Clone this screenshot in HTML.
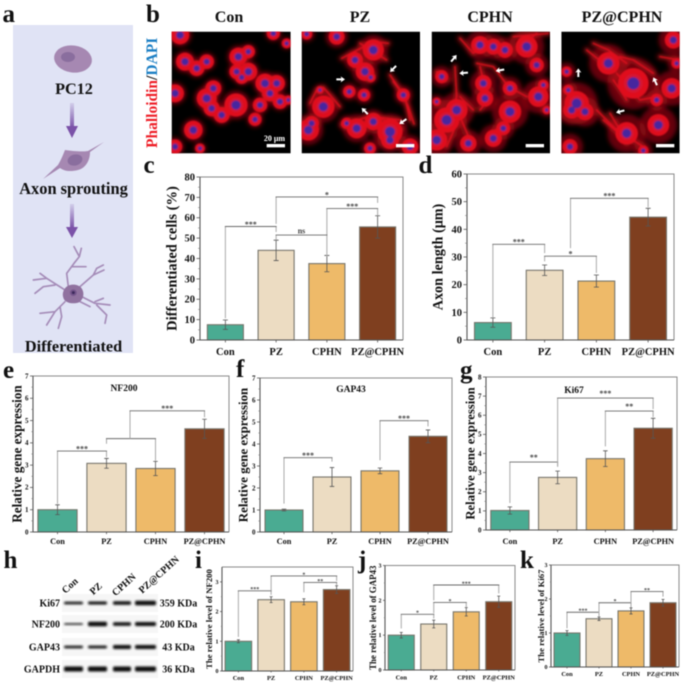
<!DOCTYPE html>
<html lang="en">
<head>
<meta charset="utf-8">
<title>PC12 differentiation figure</title>
<style>
html,body{margin:0;padding:0;background:#fff;width:685px;height:683px;overflow:hidden}
svg{display:block;filter:blur(.45px)}
text{font-family:"Liberation Serif",serif;font-weight:bold;fill:#111}
</style>
</head>
<body>
<svg id="figure" xmlns="http://www.w3.org/2000/svg" width="685" height="683" viewBox="0 0 685 683">
<defs>
<filter id="soft" x="-20%" y="-20%" width="140%" height="140%"><feGaussianBlur stdDeviation="2.6"/></filter>
<filter id="softer" x="-20%" y="-20%" width="140%" height="140%"><feGaussianBlur stdDeviation="6"/></filter>
<filter id="bandBlur" x="-20%" y="-100%" width="140%" height="300%"><feGaussianBlur stdDeviation="1.1"/></filter>
<linearGradient id="arrowFade" x1="0" y1="0" x2="0" y2="1">
<stop offset="0" stop-color="#7b52a8" stop-opacity=".15"/>
<stop offset="1" stop-color="#7b52a8"/>
</linearGradient>
</defs>

<g>
<rect x="13" y="25" width="120" height="328" fill="#e0e3f5"/>
<ellipse cx="73" cy="59" rx="19" ry="13.5" transform="rotate(8 73 59)" fill="#a688b2"/>
<ellipse cx="68" cy="57" rx="7" ry="5" fill="#8a6e9e"/>
<text x="74" y="94" text-anchor="middle" font-size="16.2">PC12</text>
<rect x="70" y="103" width="4" height="25" fill="url(#arrowFade)"/>
<polygon points="66,126 78,126 72,138" fill="#7b52a8"/>
<path d="M104,142 L90,152 C90,160 86,168 78,170 C70,172 64,171 60,168 L43,179 L58,165 C61,160 63,155 65,150 C72,151 82,152 88,151 Z" fill="#a688b2"/>
<ellipse cx="75" cy="160" rx="7.5" ry="5.5" transform="rotate(-15 75 160)" fill="#8a6e9e"/>
<text x="73.5" y="194" text-anchor="middle" font-size="16.4">Axon sprouting</text>
<rect x="70" y="204" width="4" height="24" fill="url(#arrowFade)"/>
<polygon points="66,227 78,227 72,238" fill="#7b52a8"/>
<g transform="scale(.33333)" fill="none" stroke="#a58cb8" stroke-linecap="round" stroke-linejoin="round">
<path stroke-width="5" d="M205,860 L200,820 L222,790 L238,770 L222,740 M238,770 L244,745 M215,800 L258,800"/>
<path stroke-width="5" d="M240,860 L280,825 L312,810 M280,825 L290,805 L310,795"/>
<path stroke-width="5" d="M195,870 L140,835 L100,840 M140,835 L120,820 M165,855 L130,860 L105,880"/>
<path stroke-width="5" d="M245,890 L285,910 L330,915 M285,905 L310,895 M290,915 L320,945 L315,970"/>
<path stroke-width="5" d="M195,905 L165,935 L120,940 M165,935 L140,975 M180,920 L185,950 L175,985 M240,905 L270,920"/>
<path d="M195,865 C205,850 235,850 245,865 C255,880 250,900 235,908 C220,912 200,910 192,898 C186,885 188,875 195,865 Z" fill="#90729f" stroke="none"/>
<circle cx="220" cy="878" r="10" fill="#75568c" stroke="none"/>
<circle cx="220" cy="878" r="4.5" fill="#3e2a5c" stroke="none"/>
</g>
<text x="73.5" y="351.5" text-anchor="middle" font-size="16.3">Differentiated</text>
</g>

<g>
<text x="2.5" y="22" font-size="25">a</text>
<text x="146" y="22" font-size="25">b</text>
<text x="143.5" y="173" font-size="25">c</text>
<text x="418.5" y="173" font-size="25">d</text>
<text x="3" y="378" font-size="25">e</text>
<text x="236" y="377" font-size="25">f</text>
<text x="460" y="378" font-size="25">g</text>
<text x="3.5" y="568" font-size="25">h</text>
<text x="195" y="568" font-size="25">i</text>
<text x="358" y="568" font-size="25">j</text>
<text x="520" y="568" font-size="25">k</text>
</g>

<g id="micrographs">
<text transform="translate(157,148) rotate(-90)" font-size="15.5"><tspan style="fill:#ee1c25">Phalloidin</tspan><tspan>/</tspan><tspan style="fill:#1c7fc4">DAPI</tspan></text>
<text x="229" y="22" text-anchor="middle" font-size="16">Con</text>
<text x="360" y="22" text-anchor="middle" font-size="16">PZ</text>
<text x="490" y="22" text-anchor="middle" font-size="16">CPHN</text>
<text x="622" y="22" text-anchor="middle" font-size="16">PZ@CPHN</text>
</g>

<g id="blot"></g>
<g id="charts"></g>
</svg>

<script>
const categories = ['Con', 'PZ', 'CPHN', 'PZ@CPHN'];

const cValues = [7.5, 44, 37.5, 55.5];
const cErrors = [2.3, 5, 4, 5.5];
const cTicks = [0, 10, 20, 30, 40, 50, 60, 70, 80];
const cBrackets = [[0, 1, 55.7, 10.7, 53, '***'], [1, 3, 70.2, 57, 67.3, '*'], [2, 3, 64.5, 51.5, 61, '***'], [1, 2, 51.5, 49, 41, 'ns']];

const dValues = [6.3, 25.2, 21.3, 44.4];
const dErrors = [1.7, 1.9, 2.2, 3.2];
const dTicks = [0, 10, 20, 30, 40, 50, 60];
const dBrackets = [[0, 1, 34.6, 8, 31.4, '***'], [1, 2, 30.3, 28.4, 24.2, '*'], [1.5, 3, 51.2, 33.2, 48, '***']];

const eValues = [1.0, 3.08, 2.85, 4.63];
const eErrors = [0.22, 0.22, 0.32, 0.43];
const eTicks = [0, 1, 2, 3, 4, 5, 6, 7];
const eBrackets = [[0, 1, 3.63, 1.27, 3.36, '***'], [1, 2, 4.19, 3.96, 3.2, ''], [1.48, 3, 5.44, 4.19, 5.15, '***']];

const fValues = [1.0, 2.5, 2.78, 4.35];
const fErrors = [0.04, 0.43, 0.13, 0.29];
const fTicks = [0, 1, 2, 3, 4, 5, 6, 7];
const fBrackets = [[0, 1, 3.38, 1.29, 3.2, '***'], [2, 3, 5.06, 3.26, 4.8, '***']];

const gValues = [1.02, 2.75, 3.73, 5.32];
const gErrors = [0.19, 0.33, 0.41, 0.52];
const gTicks = [0, 1, 2, 3, 4, 5, 6, 7, 8];
const gBrackets = [[0, 1, 3.55, 1.41, 3.3, '**'], [1, 3, 6.9, 3.33, 6.32, '***'], [2, 3, 6.22, 4.37, 5.9, '**']];

const iValues = [1.0, 2.4, 2.33, 2.74];
const iErrors = [0.05, 0.1, 0.1, 0.13];
const iTicks = [0, 1, 2, 3];
const iBrackets = [[0, 1, 2.7, 1.15, 2.56, '***'], [1, 3, 3.2, 2.7, 3.03, '*'], [2, 3, 2.98, 2.65, 2.89, '**']];

const jValues = [1.0, 1.32, 1.67, 1.96];
const jErrors = [0.08, 0.11, 0.12, 0.16];
const jTicks = [0, 1, 2, 3];
const jBrackets = [[0, 1, 1.6, 1.19, 1.48, '*'], [1, 2, 1.94, 1.63, 1.81, '*'], [1, 3, 2.44, 2.0, 2.2, '***']];

const kValues = [1.0, 1.42, 1.65, 1.89];
const kErrors = [0.07, 0.05, 0.09, 0.1];
const kTicks = [0, 1, 2, 3];
const kBrackets = [[0, 1, 1.61, 1.14, 1.49, '***'], [1, 2, 1.89, 1.54, 1.75, '*'], [2, 3, 2.22, 1.88, 2.07, '**']];

const blotRowNames = ['Ki67', 'NF200', 'GAP43', 'GAPDH'];
const blotWeights = ['359 KDa', '200 KDa', '43 KDa', '36 KDa'];
const blotIntensity = [[2.6, 3, 3.5, 4.5], [1.6, 4.5, 3.5, 4], [2.4, 2.8, 4, 4], [5, 5, 5, 5]];

const SVG_NS = 'http://www.w3.org/2000/svg';
const barColors = ['#4aab92', '#ecdcc2', '#eeba69', '#7f3f1f'];

function make(parent, tag, props, content) {
  const node = document.createElementNS(SVG_NS, tag);
  for (const key in props) node.setAttribute(key, props[key]);
  if (content !== undefined) node.textContent = content;
  parent.appendChild(node);
  return node;
}

const layouts = [
  {id:'c', left:200, right:403, top:177, bottom:340, yMax:80, values:cValues, errors:cErrors, ticks:cTicks, brackets:cBrackets, barFrac:.71, tickFont:10.5, xFont:10.5, xLabelY:355, tickLen:3.5, starFont:8, starGap:3.5, yTitle:'Differentiated cells (%)', yTitleX:176.5, yTitleFont:14.5, capW:5},
  {id:'d', left:467, right:674, top:174, bottom:340, yMax:60, values:dValues, errors:dErrors, ticks:dTicks, brackets:dBrackets, barFrac:.71, tickFont:10.5, xFont:10.5, xLabelY:355, tickLen:3.5, starFont:8, starGap:3.5, yTitle:'Axon length (μm)', yTitleX:442.5, yTitleFont:14.2, capW:5},
  {id:'e', left:33, right:229, top:376, bottom:532, yMax:7, values:eValues, errors:eErrors, ticks:eTicks, brackets:eBrackets, barFrac:.8, tickFont:7, xFont:8.3, xLabelY:544, tickLen:3, starFont:8, starGap:3.5, yTitle:'Relative gene expression', yTitleX:21.5, yTitleFont:13.2, capW:4.5, title:'NF200', titleX:124, titleY:391},
  {id:'f', left:260, right:452, top:378, bottom:532, yMax:7, values:fValues, errors:fErrors, ticks:fTicks, brackets:fBrackets, barFrac:.79, tickFont:7, xFont:8.3, xLabelY:544, tickLen:3, starFont:8, starGap:3.5, yTitle:'Relative gene expression', yTitleX:247.5, yTitleFont:12.9, capW:4.5, title:'GAP43', titleX:351, titleY:392},
  {id:'g', left:486, right:677, top:377, bottom:530, yMax:8, values:gValues, errors:gErrors, ticks:gTicks, brackets:gBrackets, barFrac:.8, tickFont:7, xFont:8.3, xLabelY:544, tickLen:3, starFont:8, starGap:6, yTitle:'Relative gene expression', yTitleX:474.5, yTitleFont:12.7, capW:4.5, title:'Ki67', titleX:574, titleY:393},
  {id:'i', left:222, right:353, top:567, bottom:671, yMax:3.5, values:iValues, errors:iErrors, ticks:iTicks, brackets:iBrackets, barFrac:.81, tickFont:6, xFont:6.4, xLabelY:680, tickLen:2, starFont:6, starGap:2.5, yTitle:'The relative level of NF200', yTitleX:212, yTitleFont:8.7, capW:3},
  {id:'j', left:385, right:515, top:565.5, bottom:670, yMax:3, values:jValues, errors:jErrors, ticks:jTicks, brackets:jBrackets, barFrac:.8, tickFont:6, xFont:6.4, xLabelY:679.5, tickLen:2, starFont:6, starGap:2.5, yTitle:'The relative level of GAP43', yTitleX:376, yTitleFont:8.9, capW:3},
  {id:'k', left:551, right:679, top:565, bottom:667, yMax:3, values:kValues, errors:kErrors, ticks:kTicks, brackets:kBrackets, barFrac:.81, tickFont:6, xFont:6.4, xLabelY:676, tickLen:2, starFont:6, starGap:2.5, yTitle:'The relative level of Ki67', yTitleX:544, yTitleFont:8.7, capW:3}
];

function drawChart(cfg) {
  const root = document.getElementById('charts');
  const group = make(root, 'g', {});
  
  

  const step = (cfg.right - cfg.left) / categories.length;
  const xScale = function (i) { return cfg.left + (i + 0.5) * step; };
  const yScale = function (v) { return cfg.bottom - (v / cfg.yMax) * (cfg.bottom - cfg.top); };
  const barWidth = step * cfg.barFrac;

  cfg.values.forEach(function (value, i) {
    const bar = make(group, 'rect', {x: xScale(i) - barWidth / 2, y: yScale(value), width: barWidth, height: cfg.bottom - yScale(value), fill: barColors[i], stroke: '#77756c', 'stroke-width': 1.1});
    
    

    const hi = yScale(value + cfg.errors[i]);
    const lo = yScale(value - cfg.errors[i]);
    const cx = xScale(i);
    const err = make(group, 'path', {d: 'M' + cx + ',' + hi + 'V' + lo + 'M' + (cx - cfg.capW / 2) + ',' + hi + 'H' + (cx + cfg.capW / 2) + 'M' + (cx - cfg.capW / 2) + ',' + lo + 'H' + (cx + cfg.capW / 2), fill: 'none', stroke: '#555', 'stroke-width': .8});
    
    

    const xTick = make(group, 'line', {x1: cx, x2: cx, y1: cfg.bottom, y2: cfg.bottom + cfg.tickLen * .7, stroke: '#555', 'stroke-width': .8});
    
    

    const xLabel = make(group, 'text', {x: cx, y: cfg.xLabelY, 'text-anchor': 'middle', 'font-size': cfg.xFont}, categories[i]);
    
    
  });

  cfg.brackets.forEach(function (b) {
    const x1 = xScale(b[0]);
    const x2 = xScale(b[1]);
    const top = yScale(b[2]);
    const legs = make(group, 'path', {d: 'M' + x1 + ',' + top + 'V' + yScale(b[3]) + 'M' + x2 + ',' + top + 'V' + yScale(b[4]), fill: 'none', stroke: '#a9a9a9', 'stroke-width': 1});
    
    
    const span = make(group, 'line', {x1: x1 - .5, x2: x2 + .5, y1: top, y2: top, stroke: '#6a6a6a', 'stroke-width': .9});
    
    
    if (b[5]) {
      const isStar = b[5].indexOf('*') === 0;
      const yText = isStar ? top - cfg.starGap + .48 * cfg.starFont : top - 1.8;
      const mark = make(group, 'text', {x: (x1 + x2) / 2, y: yText, 'text-anchor': 'middle', 'font-size': cfg.starFont, style: 'fill:#444'}, b[5]);
      
      
    }
  });

  const frameTop = make(group, 'path', {d: 'M' + cfg.left + ',' + cfg.top + 'H' + cfg.right + 'V' + cfg.bottom, fill: 'none', stroke: '#8a8a8a', 'stroke-width': 1});
  
  
  const axes = make(group, 'path', {d: 'M' + cfg.left + ',' + cfg.top + 'V' + cfg.bottom + 'H' + cfg.right, fill: 'none', stroke: '#555', 'stroke-width': 1.1});
  
  

  cfg.ticks.forEach(function (t, idx) {
    const y = yScale(t);
    const tick = make(group, 'line', {x1: cfg.left - cfg.tickLen, x2: cfg.left, y1: y, y2: y, stroke: '#555', 'stroke-width': .8});
    
    
    const label = make(group, 'text', {x: cfg.left - cfg.tickLen - 1.5, y: y + cfg.tickFont * .33, 'text-anchor': 'end', 'font-size': cfg.tickFont}, String(t));
    
    
    if (idx < cfg.ticks.length - 1) {
      const yMid = yScale((t + cfg.ticks[idx + 1]) / 2);
      const minor = make(group, 'line', {x1: cfg.left - cfg.tickLen * .55, x2: cfg.left, y1: yMid, y2: yMid, stroke: '#777', 'stroke-width': .6});
      
      
    }
  });

  const midY = (cfg.top + cfg.bottom) / 2;
  const yTitle = make(group, 'text', {transform: 'translate(' + cfg.yTitleX + ',' + midY + ') rotate(-90)', 'text-anchor': 'middle', 'font-size': cfg.yTitleFont}, cfg.yTitle);
  
  

  if (cfg.title) {
    const title = make(group, 'text', {x: cfg.titleX, y: cfg.titleY, 'text-anchor': 'middle', 'font-size': 9.5}, cfg.title);
    
    
  }
}
layouts.forEach(drawChart);

/* Micrographs: coordinates are in a 3x working space, translated to the page. */
const panelFrames = [[35, 95, 357, 365], [425, 95, 355, 365], [815, 95, 355, 365], [1204, 95, 355, 365]];
const panelHalo = [1.25, 1.4, 1.6, 1.7];
const panelCells = [
  [[75,185,27],[110,205,23],[140,185,22],[235,170,27],[265,155,20],[230,215,22],[265,215,27],[245,232,20],[315,250,29],[350,250,25],[330,280,24],[140,295,30],[160,265,24],[155,325,24],[185,345,24],[228,315,35],[300,315,22],[360,305,22],[285,358,20],[100,390,28],[45,280,27],[385,300,14],[60,105,28],[20,95,16],[340,100,20],[380,130,15],[45,440,22],[120,445,15]],
  [[640,150,32],[585,180,24],[615,215,28],[632,232,15],[568,275,19],[612,285,19],[730,285,20],[490,320,34],[445,390,32],[455,370,22],[590,385,30],[640,365,26],[690,395,38],[690,420,27],[630,445,18],[750,440,25],[530,110,24],[440,102,17],[480,270,12],[560,370,17]],
  [[960,135,27],[1000,140,24],[1035,150,24],[1100,140,33],[845,230,20],[1130,195,22],[1050,265,22],[1135,290,31],[970,250,25],[975,295,25],[890,330,33],[860,360,38],[830,420,32],[1050,335,34],[1000,415,26],[1030,385,21],[925,430,25],[830,305,13],[1160,330,13],[1150,255,16]],
  [[1345,190,34],[1420,250,46],[1250,310,37],[1235,330,26],[1275,335,26],[1220,215,16],[1225,270,16],[1495,375,33],[1400,400,34],[1535,265,31],[1490,300,19],[1540,120,26],[1230,440,23],[1550,190,16],[1450,452,16]]
];
const panelStreaks = [
  [],
  ['690,225 720,270 745,320 762,372', '700,245 735,290 750,360', '545,375 640,345 725,385', '450,310 470,270 490,262 540,320', '545,175 640,125 685,130', '600,130 680,180', '640,350 720,360'],
  ['900,115 940,160 980,130', '885,200 890,290 870,340', '950,190 1000,200 1045,260 1100,290', '830,215 860,240', '860,440 900,350 930,420', '1060,110 1165,100', '1070,150 1130,100', '900,290 940,330', '960,200 985,300 960,330', '1000,395 1040,365'],
  ['1300,130 1345,150 1400,190', '1310,330 1370,390 1450,440', '1330,360 1400,420', '1400,430 1380,390 1350,340', '1480,220 1420,180 1380,170', '1500,170 1558,180', '1280,150 1330,190', '1370,220 1440,300 1490,290', '1360,240 1400,300']
];
const panelArrows = [
  [],
  [[555, 238, 90], [690, 216, 225], [605, 324, 315], [718, 372, 235]],
  [[890, 165, 40], [898, 220, 265], [1007, 213, 260]],
  [[1255, 205, 0], [1480, 232, 335], [1368, 338, 255]]
];
const scaleBarStarts = [320, 708, 1097, 1488];

const micro = document.getElementById('micrographs');
const microSpace = make(micro, 'g', {transform: 'translate(160,0) scale(.33333)'});
panelFrames.forEach(function (frame, p) {
  const clip = make(micro.ownerSVGElement.querySelector('defs'), 'clipPath', {id: 'panelClip' + p});
  make(clip, 'rect', {x: frame[0], y: frame[1], width: frame[2], height: frame[3]});

  const panel = make(microSpace, 'g', {'clip-path': 'url(#panelClip' + p + ')'});
  
  

  const bg = make(panel, 'rect', {x: frame[0], y: frame[1], width: frame[2], height: frame[3], fill: '#000'});
  
  

  const halo = make(panel, 'g', {filter: 'url(#softer)'});
  
  
  panelCells[p].forEach(function (cell) {
    make(halo, 'circle', {cx: cell[0], cy: cell[1], r: cell[2] * panelHalo[p], fill: '#a80a16', 'fill-opacity': .6});
  });
  panelStreaks[p].forEach(function (points) {
    make(halo, 'polyline', {points: points, fill: 'none', stroke: '#b80c18', 'stroke-width': 20, 'stroke-opacity': .55, 'stroke-linejoin': 'round', 'stroke-linecap': 'round'});
  });

  const tissue = make(panel, 'g', {filter: 'url(#soft)'});
  
  
  panelStreaks[p].forEach(function (points) {
    make(tissue, 'polyline', {points: points, fill: 'none', stroke: '#d80e1e', 'stroke-width': 5, 'stroke-linejoin': 'round', 'stroke-linecap': 'round'});
  });
  panelCells[p].forEach(function (cell) {
    make(tissue, 'circle', {cx: cell[0], cy: cell[1], r: cell[2], fill: '#e00d1c'});
  });
  panelCells[p].forEach(function (cell) {
    make(tissue, 'circle', {cx: cell[0], cy: cell[1], r: cell[2] * .62, fill: '#c8204a', 'fill-opacity': .45});
  });
  panelCells[p].forEach(function (cell) {
    make(tissue, 'circle', {cx: cell[0], cy: cell[1], r: cell[2] * .4, fill: '#3a2aa8', 'fill-opacity': .92});
  });

  panelArrows[p].forEach(function (arrow) {
    const mark = make(panel, 'path', {d: 'M0,0 L-9,13 L-3,11 L-3,26 L3,26 L3,11 L9,13 Z', fill: '#fff', transform: 'translate(' + arrow[0] + ',' + arrow[1] + ') rotate(' + arrow[2] + ')'});
    
    
  });

  const bar = make(panel, 'rect', {x: scaleBarStarts[p], y: 432, width: 55, height: 10, fill: '#fff'});
  
  
});
const scaleText = make(micro, 'text', {x: 274.5, y: 141, 'text-anchor': 'middle', 'font-size': 8, style: 'fill:#fff'}, '20 μm');



/* Western blot */
const blot = document.getElementById('blot');
const blotRowY = [603, 624, 647, 669];
const blotBands = [[64, 83], [88, 107], [113, 131], [135, 156]];
blotRowNames.forEach(function (name, r) {
  const strip = make(blot, 'rect', {x: 62, y: blotRowY[r] - 9, width: 96, height: 18, fill: '#f6f6f6'});
  
  
  blotBands.forEach(function (band, c) {
    const t = blotIntensity[r][c];
    const rect = make(blot, 'rect', {x: band[0], y: blotRowY[r] - t / 2, width: band[1] - band[0], height: t, rx: 1.5, fill: '#0c0c0c', filter: 'url(#bandBlur)'});
    
    
  });
  const rowLabel = make(blot, 'text', {x: 60, y: blotRowY[r] + 3.5, 'text-anchor': 'end', 'font-size': 10}, name);
  
  
  const weight = make(blot, 'text', {x: 178.5, y: blotRowY[r] + 3.5, 'text-anchor': 'middle', 'font-size': 10}, blotWeights[r]);
  
  
});
const blotHeadPos = [[72, 588], [98, 591], [126, 587], [161, 577]];
categories.forEach(function (name, i) {
  const head = make(blot, 'text', {transform: 'translate(' + blotHeadPos[i][0] + ',' + blotHeadPos[i][1] + ') rotate(-42)', 'text-anchor': 'middle', 'font-size': 10}, name);
  
  
});
</script>
</body>
</html>
